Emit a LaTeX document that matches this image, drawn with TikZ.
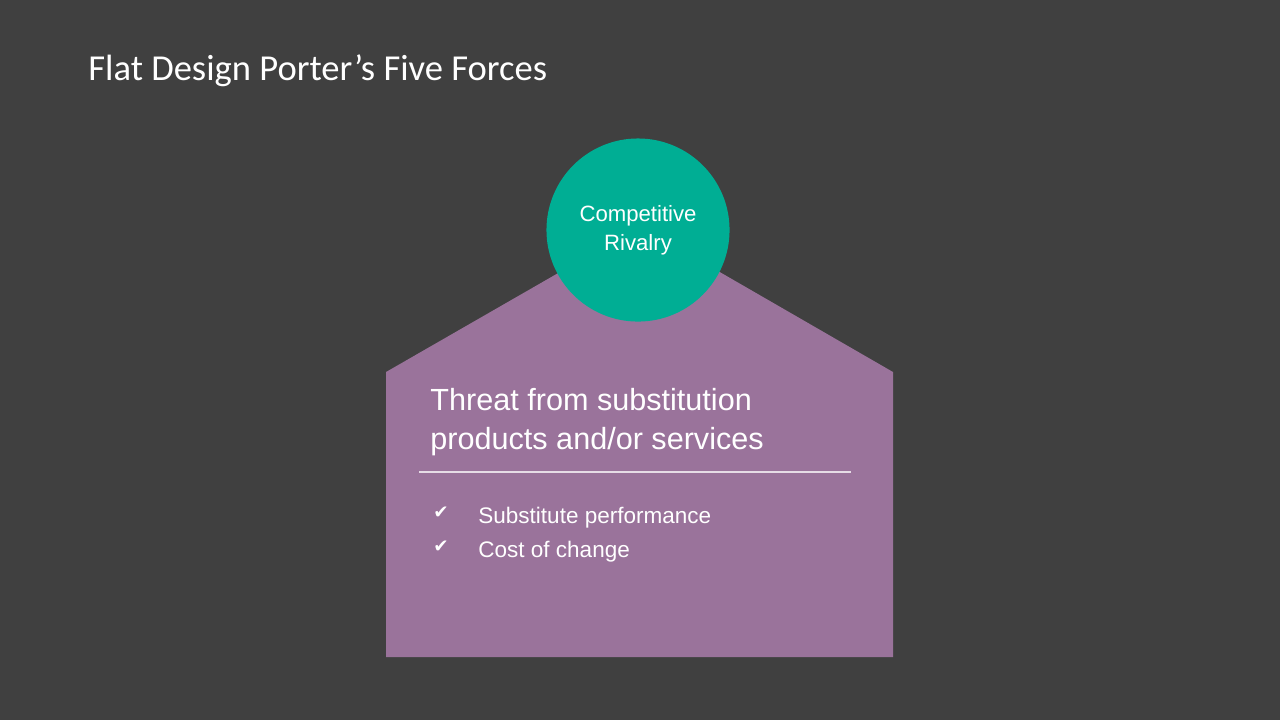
\documentclass[tikz,border=0pt]{standalone}
\usepackage{fontspec}
\setmainfont{Liberation Sans}
\newfontfamily\titlefont{Carlito}
\newfontfamily\symfont{DejaVu Sans}
\definecolor{bgdark}{HTML}{404040}
\definecolor{housepurple}{HTML}{9A739B}
\definecolor{rivalgreen}{HTML}{00AE94}
\begin{document}
\begin{tikzpicture}[x=0.01cm,y=-0.01cm,
  head/.style={anchor=base west,text=white,font=\fontsize{8.7pt}{11pt}\selectfont},
  item/.style={anchor=base west,text=white,font=\fontsize{6.4pt}{8pt}\selectfont},
  tick/.style={anchor=base west,text=white,font=\symfont\fontsize{5.2pt}{6pt}\selectfont}]

\fill[bgdark] (0,0) rectangle (1280,720);
\useasboundingbox (0,0) rectangle (1280,720);

\node[anchor=base west,text=white,font=\titlefont\fontsize{10.4pt}{12pt}\selectfont] (title) at (76,80) {Flat Design Porter’s Five Forces};

% house shape
\fill[housepurple] (386,657) -- (386,372) -- (640,226) -- (893,372) -- (893,657) -- cycle;

% rivalry circle
\node[circle,fill=rivalgreen,minimum size=1.83cm,inner sep=0pt,text=white,align=center,
  font=\fontsize{6.3pt}{8.2pt}\selectfont] (rivalry) at (638,230) {Competitive\\Rivalry};

\node[head] (threatA) at (418,410) {Threat from substitution};
\node[head] (threatB) at (418,449) {products and/or services};

\coordinate (ruleL) at (419,472);
\coordinate (ruleR) at (851,472);
\draw[white!75!housepurple,line width=0.4pt] (ruleL) -- (ruleR);

\node[tick] (tickA) at (421,518) {✔};
\node[item] (perf) at (466,523) {Substitute performance};
\node[tick] (tickB) at (421,552) {✔};
\node[item] (cost) at (466,557) {Cost of change};
\end{tikzpicture}
\end{document}
